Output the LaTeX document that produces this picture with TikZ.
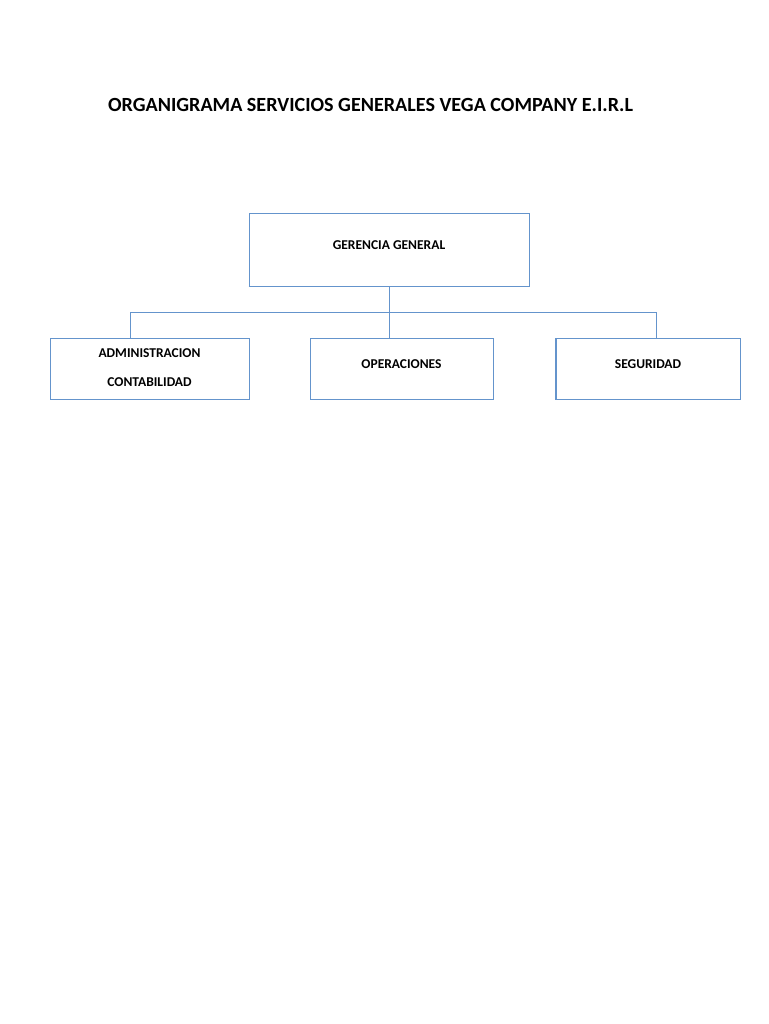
\documentclass[tikz,border=0pt]{standalone}
\usepackage{fontspec}
\setmainfont{Carlito}
\definecolor{boxblue}{RGB}{100,148,204}
\begin{document}
\begin{tikzpicture}[x=1pt, y=-1pt,
    area/.style={draw=boxblue, line width=0.9pt, inner sep=0pt},
    label/.style={font=\fontsize{13.5}{16}\selectfont\bfseries},
    link/.style={draw=boxblue, line width=0.9pt}]
    % Page
    \useasboundingbox (0,0) rectangle (768,1024);
    
    % Title
    \node[font=\fontsize{20.1}{24}\selectfont\bfseries, anchor=west] (title) at (104.5,104.5) {ORGANIGRAMA SERVICIOS GENERALES VEGA COMPANY E.I.R.L};
    
    % Gerencia
    \node[area, minimum width=280, minimum height=73] (gerencia) at (389,249.5) {};
    \node[label] (gerenciatxt) at (389,245) {GERENCIA GENERAL};
    \draw[boxblue, line width=1.6pt] (gerencia.south west) -- (gerencia.south east);
    
    % Areas
    \node[area, minimum width=199, minimum height=61] (admin) at (149.5,369) {};
    \node[label] (admintxt1) at (149.5,353) {ADMINISTRACION};
    \node[label] (admintxt2) at (149.5,382) {CONTABILIDAD};
    
    \node[area, minimum width=183, minimum height=61] (oper) at (401.5,369) {};
    \node[label] (opertxt) at (401.5,364) {OPERACIONES};
    
    \node[area, minimum width=184, minimum height=61] (segur) at (648,369) {};
    \node[label] (segurtxt) at (648,364) {SEGURIDAD};
    \draw[boxblue, line width=1.6pt] (segur.north west) -- (segur.south west);
    
    % Connectors
    \coordinate (junction) at (389,312);
    \coordinate (leftdrop) at (130,312);
    \coordinate (rightdrop) at (656,312);
    \draw[link] (gerencia.south) -- (junction);
    \draw[link] (junction) -- (junction |- oper.north);
    \draw[link] (leftdrop |- admin.north) -- (leftdrop) -- (rightdrop) -- (rightdrop |- segur.north);
\end{tikzpicture}
\end{document}
